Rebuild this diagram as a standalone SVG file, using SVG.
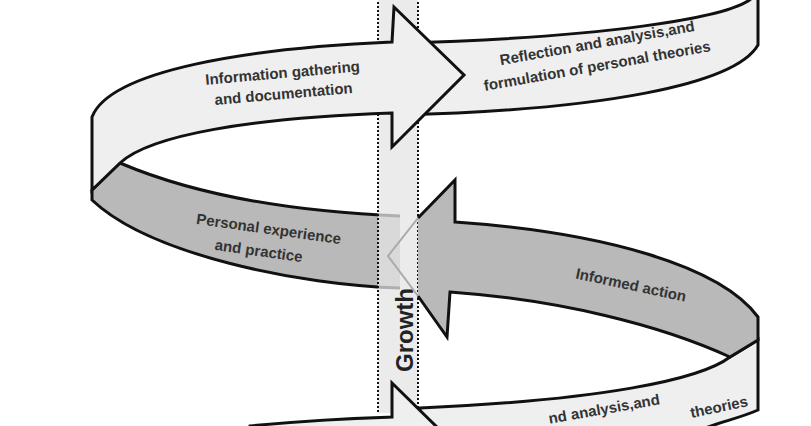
<svg xmlns="http://www.w3.org/2000/svg" width="811" height="426" viewBox="0 0 811 426">
<style>
.light{fill:#efefef;stroke:#111;stroke-width:3;stroke-linejoin:miter}
.dark{fill:#b9b9b9;stroke:#111;stroke-width:3;stroke-linejoin:miter}
.t{font-family:"Liberation Sans",Arial,sans-serif;font-weight:bold;font-size:15px;fill:#333;text-anchor:middle}
.bar{fill:#e4e4e4;fill-opacity:0.75;stroke:none}
.dot{stroke:#111;stroke-width:2;stroke-dasharray:2 2;fill:none}
</style>
<rect width="811" height="426" fill="#fff"/>
<g id="band-experience">
<path fill="#b9b9b9" d="M92,190 L120,163 C200,197 300,212 400,216 L400,288 C300,285 150,255 92,200 Z"/>
<path fill="none" stroke="#111" stroke-width="3" d="M400,216 C300,212 200,197 120,163 L92,190 L92,200 C150,255 300,285 400,288"/>
<text class="t" transform="translate(268,234) rotate(8)">Personal experience</text>
<text class="t" transform="translate(258,256) rotate(8)">and practice</text>
</g>
<g id="band-reflection">
<path class="light" d="M400,43 C600,38 730,18 752,-2 L758,-2 L758,45 C735,85 600,110 400,115 Z"/>
<text class="t" transform="translate(598,48) rotate(-10)">Reflection and analysis,and</text>
<text class="t" transform="translate(598,71) rotate(-10)">formulation of personal theories</text>
</g>
<g id="band-bottom">
<path class="light" d="M420,430 L420,408 C600,400 700,380 730,357 L758,340 L758,410 C740,418 720,422 700,430 Z"/>
<text class="t" transform="translate(605,414) rotate(-10)">nd analysis,and</text>
<text class="t" transform="translate(720,412) rotate(-12)">theories</text>
</g>
<g id="growth">
<rect class="bar" x="378" y="-10" width="40" height="423"/>
<path class="dot" d="M378,-10 V413 M418,-10 V413"/>
<text font-family="Liberation Sans,Arial,sans-serif" font-weight="bold" font-size="24" fill="#222" text-anchor="middle" transform="translate(413,330) rotate(-90)">Growth</text>
<text font-family="Liberation Sans,Arial,sans-serif" font-weight="bold" font-size="24" fill="#222" text-anchor="middle" transform="translate(413,-42) rotate(-90)">Growth</text>
</g>
<g id="arrow-action">
<path class="dark" d="M418,218 L455,180 L455,222 C600,232 720,265 758,317 L758,340 L730,357 C660,325 560,300 450,292 L447,337 L418,296"/>
<path d="M418,218 L388,256 L418,296" fill="none" stroke="#aaa" stroke-width="2"/>
<text class="t" transform="translate(630,290) rotate(12)">Informed action</text>
</g>
<g id="arrow-information">
<path class="light" d="M92,190 L92,117 C110,70 250,48 392,42 L394,7 L464,75 L392,147 L392,113 C250,118 150,135 120,163 Z"/>
<text class="t" transform="translate(283,78) rotate(-5)">Information gathering</text>
<text class="t" transform="translate(284,99) rotate(-5)">and documentation</text>
</g>
<g id="arrow-bottom">
<path class="light" d="M250,432 L250,426 C320,419 360,418 392,417 L392,383 L442,432 Z"/>
</g>
</svg>
